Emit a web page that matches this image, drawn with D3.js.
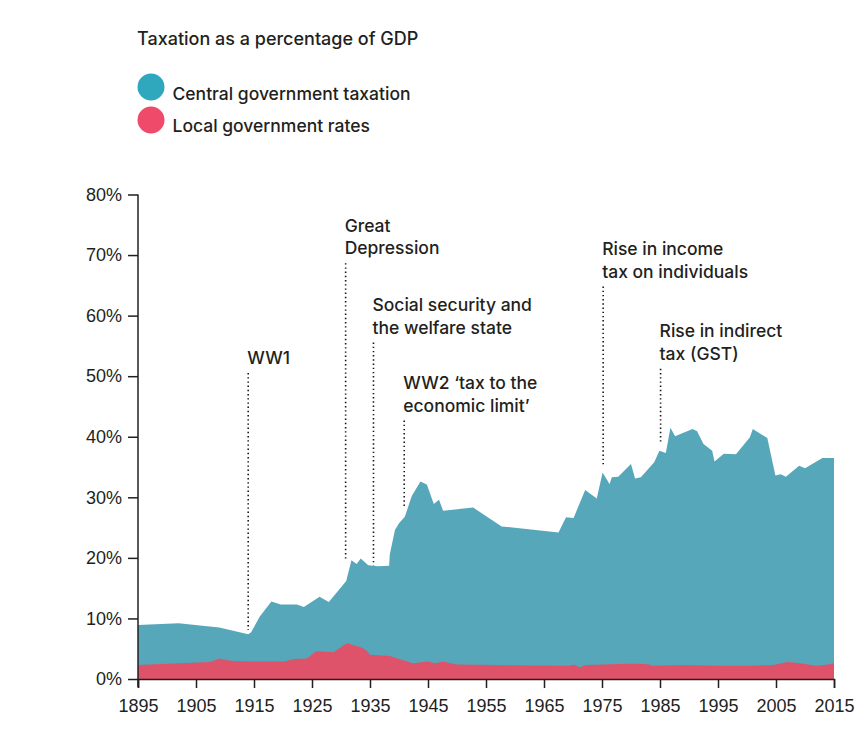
<!DOCTYPE html>
<html>
<head>
<meta charset="utf-8">
<script src="https://cdn.jsdelivr.net/npm/d3@7"></script>
<style>
  body { margin: 0; background: #fff; font-family: Inter, "Noto Sans", sans-serif; }
  text { fill: #231f20; }
</style>
</head>
<body>
<div id="chart"></div>
<script>
// data (percent of GDP)
var totalYears = [1895, 1902, 1909, 1914, 1914.5, 1916, 1918, 1919.6, 1922.4, 1923.6, 1926.3, 1927.9, 1930.9, 1931.8, 1932.7, 1933.4, 1934.7, 1936.4, 1938.3, 1938.4, 1939.3, 1940, 1941, 1942.2, 1943.7, 1944.8, 1946, 1946.9, 1947.6, 1952.8, 1957.7, 1967.5, 1968.8, 1970.1, 1972.1, 1974.1, 1975.1, 1976.3, 1976.7, 1977.8, 1980, 1980.7, 1981.7, 1984, 1984.9, 1986, 1986.8, 1987.6, 1990.6, 1991.4, 1992.5, 1994, 1994.4, 1996, 1998.1, 2000.5, 2001, 2003.5, 2004.9, 2005.8, 2006.7, 2009, 2010, 2013, 2015]
var totalValues = [8.9, 9.2, 8.5, 7.4, 7.7, 10.3, 12.8, 12.3, 12.3, 11.9, 13.6, 12.7, 16.2, 19.6, 19.0, 19.9, 18.8, 18.6, 18.7, 20.5, 24.6, 25.7, 26.8, 30.2, 32.6, 32.1, 28.9, 29.6, 27.8, 28.3, 25.2, 24.2, 26.7, 26.6, 31.2, 29.8, 34.1, 32.2, 33.3, 33.4, 35.5, 33.1, 33.3, 35.8, 37.7, 37.3, 41.5, 40.1, 41.3, 40.9, 38.8, 37.7, 35.9, 37.2, 37.1, 39.9, 41.3, 39.8, 33.6, 33.8, 33.4, 35.2, 34.8, 36.5, 36.5]

var localYears = [1895, 1907.4, 1909, 1910.9, 1914.3, 1920.3, 1921.8, 1924.1, 1925.7, 1928.7, 1931, 1933.3, 1934.3, 1935, 1938.4, 1942.4, 1945, 1946.2, 1947.6, 1949.9, 1956.8, 1969.4, 1970.2, 1971.2, 1972.1, 1975.2, 1979.3, 1981.6, 1983.2, 1983.6, 1989, 1994.8, 2000.5, 2004.5, 2007, 2008.5, 2012, 2014, 2015]
var localValues = [2.3, 2.8, 3.4, 3.0, 2.9, 2.9, 3.3, 3.4, 4.6, 4.4, 5.9, 5.3, 4.8, 4.0, 3.8, 2.6, 2.9, 2.6, 2.9, 2.4, 2.3, 2.2, 2.4, 1.9, 2.3, 2.4, 2.5, 2.5, 2.4, 2.2, 2.3, 2.2, 2.2, 2.3, 2.8, 2.7, 2.2, 2.4, 2.6]

var xTicks = [1895, 1905, 1915, 1925, 1935, 1945, 1955, 1965, 1975, 1985, 1995, 2005, 2015]
var yTicks = [0, 10, 20, 30, 40, 50, 60, 70, 80]

var seriesNames = ["Central government taxation", "Local government rates"]

var eventLabels = [["WW1"], ["Great", "Depression"], ["Social security and", "the welfare state"], ["WW2 \u2018tax to the", "economic limit\u2019"], ["Rise in income", "tax on individuals"], ["Rise in indirect", "tax (GST)"]]
var eventYears = [1914, 1930.8, 1935.6, 1940.9, 1975.2, 1985.1]
// where each dotted line meets the area (percent)
var eventEnds = [8.1, 19.4, 18.8, 28.3, 35.1, 38.7]

// layout
var svgWidth = 866
var svgHeight = 754
var labelTops = [364, 231.7, 311, 389, 255, 337.3] // first baseline of each label

var colors = { central: "#57a7ba", local: "#de536a", centralKey: "#2fa8be", localKey: "#ef4a6a" }

var svg = d3.select("#chart")
  .append("svg")
  .attr("width", svgWidth)
  .attr("height", svgHeight)

var xScale = d3.scaleLinear()
  .domain([1895, 2015])
  .range([138, 834])

var yScale = d3.scaleLinear()
  .domain([0, 80])
  .range([679, 194.5])

var total = totalYears.map((y, i) => ({ year: y, value: totalValues[i] }))
var local = localYears.map((y, i) => ({ year: y, value: localValues[i] }))

var area = d3.area()
  .x(d => xScale(d.year))
  .y0(yScale(0))
  .y1(d => yScale(d.value))

svg.append("path")
  .datum(total)
  .attr("fill", colors.central)
  .attr("d", area)

svg.append("path")
  .datum(local)
  .attr("fill", colors.local)
  .attr("d", area)

// axes
var bottomAxis = d3.axisBottom(xScale)
  .tickValues(xTicks)
  .tickFormat(d3.format("d"))
  .tickSizeOuter(0)
  .tickSize(9)
  .tickPadding(11)

var leftAxis = d3.axisLeft(yScale)
  .tickValues(yTicks)
  .tickFormat(d => d + "%")
  .tickSizeOuter(0)
  .tickSize(10)
  .tickPadding(6)

var xg = svg.append("g")
  .attr("transform", `translate(0, ${yScale(0)})`)
  .call(bottomAxis)

var yg = svg.append("g")
  .attr("transform", `translate(${xScale(1895)}, 0)`)
  .call(leftAxis)

svg.selectAll(".domain").attr("stroke", "#231f20").attr("stroke-width", 1.5)
svg.selectAll(".tick line").attr("stroke", "#231f20").attr("stroke-width", 1.5)
svg.selectAll(".tick text")
  .style("fill", "#231f20")
  .style("font-family", "'Liberation Sans', Arial, sans-serif")
  .style("font-size", "18px")
yg.select(".domain").attr("d", `M0,${yScale(80)}V${yScale(0) + 8}`)

// annotations
eventYears.forEach(function(yr, i) {
  var x = xScale(yr)
  var lines = eventLabels[i]
  var top = labelTops[i]
  svg.append("line")
    .attr("x1", x).attr("x2", x)
    .attr("y1", top + (lines.length - 1) * 22.5 + 9)
    .attr("y2", yScale(eventEnds[i]))
    .attr("stroke", "#1a1718")
    .attr("stroke-width", 1.6)
    .attr("stroke-dasharray", "1.4,2.8")
  var t = svg.append("text")
    .attr("x", x - 1)
    .attr("y", top)
    .style("font-size", "17.5px")
    .style("font-weight", 500)
  lines.forEach(function(l, j) {
    t.append("tspan").attr("x", x - 1).attr("dy", j ? 22.5 : 0).text(l)
  })
})

// title and legend
svg.append("text")
  .attr("x", 137)
  .attr("y", 45)
  .style("font-size", "18px")
  .style("font-weight", 500)
  .text("Taxation as a percentage of GDP")

var legend = svg.append("g")
legend.selectAll("circle")
  .data(seriesNames)
  .enter()
  .append("circle")
  .attr("cx", 151)
  .attr("cy", (d, i) => 87 + i * 33)
  .attr("r", 13.5)
  .attr("fill", (d, i) => i ? colors.localKey : colors.centralKey)

legend.selectAll("text")
  .data(seriesNames)
  .enter()
  .append("text")
  .attr("x", 172.5)
  .attr("y", (d, i) => 100 + i * 32)
  .style("font-size", "17.5px")
  .style("font-weight", 500)
  .text(d => d)
</script>
</body>
</html>
